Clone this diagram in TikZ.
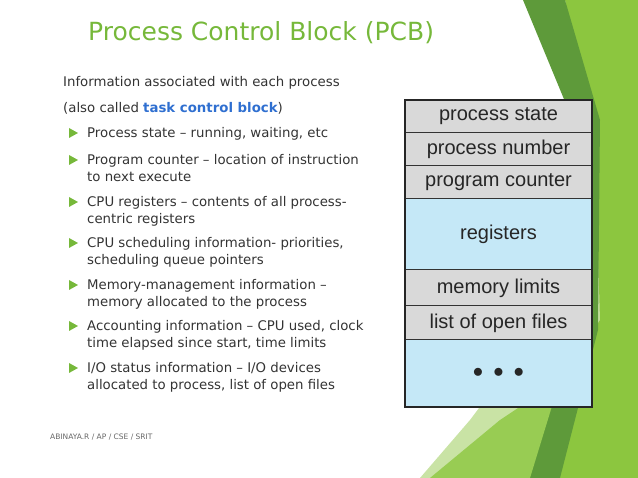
\documentclass[tikz,border=0pt]{standalone}
\usepackage{fontspec}
\setmainfont{DejaVu Sans}
\newfontfamily\pcbfont{Liberation Sans}
\usepackage{tikz}
\usetikzlibrary{positioning}
\definecolor{titlegreen}{HTML}{76B83A}
\definecolor{darkgreen}{HTML}{5E9A3A}
\definecolor{midgreen}{HTML}{8CC63F}
\definecolor{palegreen}{HTML}{C9E3A5}
\definecolor{cellgray}{HTML}{D9D9D9}
\definecolor{cellblue}{HTML}{C5E8F7}
\definecolor{linkblue}{HTML}{2F6FD0}
\begin{document}
\begin{tikzpicture}[x=1pt,y=-1pt,
    bodytext/.style={anchor=base west,inner sep=0pt,font=\fontsize{13.3}{16}\selectfont,text=black!80},
    bullett/.style={fill=titlegreen,draw=none},
    cell/.style={draw=black!80,line width=1pt,minimum width=187pt,inner sep=0pt,outer sep=0pt,
                 font=\pcbfont\fontsize{20}{22}\selectfont,text=black!85},
    grayy/.style={cell,fill=cellgray},
    bluee/.style={cell,fill=cellblue}]
  \useasboundingbox (0,0) rectangle (638,478);
  % background shapes
  \fill[palegreen] (600,0) -- (638,0) -- (638,478) -- (420,478) -- (470,420) -- (560,300) -- cycle;
  \fill[midgreen] (565,0) -- (638,0) -- (638,478) -- (500,478) -- (600,320) -- (595,150) -- cycle;
  \fill[darkgreen] (523,0) -- (565,0) -- (600,120) -- (598,330) -- (560,478) -- (510,478) -- (590,300) -- (585,150) -- cycle;
  \fill[midgreen!80!palegreen] (430,478) -- (500,420) -- (560,380) -- (530,478) -- cycle;
  % title
  \node (title) [anchor=base west,inner sep=0pt,text=titlegreen,font=\fontsize{25}{28}\selectfont] at (88,41) {Process Control Block (PCB)};
  % text
  \node (info) [bodytext] at (63,87) {Information associated with each process};
  \node (aka) [bodytext] at (63,113) {(also called \textcolor{linkblue}{\bfseries task control block})};
  \foreach \y/\a/\b [count=\i] in {
      138/{Process state – running, waiting, etc}/{},
      165/{Program counter – location of instruction}/{to next execute},
      207/{CPU registers – contents of all process-}/{centric registers},
      248/{CPU scheduling information- priorities,}/{scheduling queue pointers},
      290/{Memory-management information –}/{memory allocated to the process},
      331/{Accounting information – CPU used, clock}/{time elapsed since start, time limits},
      373/{I/O status information – I/O devices}/{allocated to process, list of open files}} {
    \fill[bullett] (69,\y-10) -- (78,\y-5) -- (69,\y) -- cycle;
    \node (item\i) [bodytext] at (87,\y) {\a};
    \node (itemb\i) [bodytext] at (87,\y+16.5) {\b};
  }
  \node (footer) [anchor=base west,inner sep=0pt,text=black!60,font=\fontsize{7.5}{9}\selectfont] at (50,440) {ABINAYA.R / AP / CSE / SRIT};
  % PCB table
  \node (state) [grayy,minimum height=33pt,anchor=north west] at (405,100) {process state};
  \node (number) [grayy,minimum height=33pt,below=0pt of state] {process number};
  \node (counter) [grayy,minimum height=33pt,below=0pt of number] {program counter};
  \node (registers) [bluee,minimum height=71pt,below=0pt of counter] {registers};
  \node (memory) [grayy,minimum height=36pt,below=0pt of registers] {memory limits};
  \node (files) [grayy,minimum height=34pt,below=0pt of memory] {list of open files};
  \node (more) [bluee,minimum height=67pt,below=0pt of files] {\raisebox{2pt}{$\bullet$\hspace{10pt}$\bullet$\hspace{10pt}$\bullet$}};
  \draw[black!85,line width=1.6pt] (state.north west) rectangle (more.south east);
\end{tikzpicture}
\end{document}
